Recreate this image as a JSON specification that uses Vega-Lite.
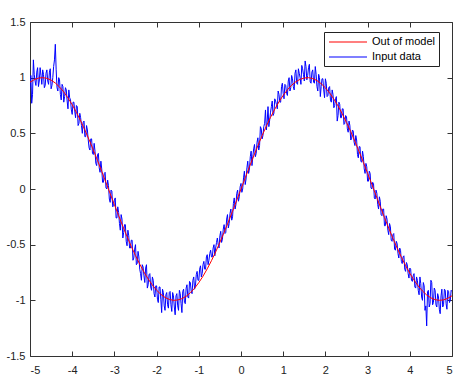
{
  "$schema": "https://vega.github.io/schema/vega-lite/v6.json",
  "width": 422,
  "height": 334,
  "autosize": "none",
  "padding": {"left": 30, "top": 22, "right": 22, "bottom": 33},
  "background": "white",
  "config": {
    "view": {"stroke": "#333", "strokeWidth": 1},
    "axis": {"grid": false, "domain": false, "tickColor": "#333", "tickSize": -5, "labelFont": "Liberation Sans", "labelFontSize": 11, "labelColor": "#222", "title": null},
    "legend": {"labelFont": "Liberation Sans", "labelFontSize": 11, "labelColor": "#000"}
  },
  "datasets": {
    "model": [
      {"x": -5.0, "y": 0.959}, {"x": -4.9, "y": 0.982}, {"x": -4.8, "y": 0.996}, {"x": -4.7, "y": 1.0}, {"x": -4.6, "y": 0.994}, {"x": -4.5, "y": 0.978}, {"x": -4.4, "y": 0.952}, {"x": -4.3, "y": 0.916}, {"x": -4.2, "y": 0.872}, {"x": -4.1, "y": 0.818},
      {"x": -4.0, "y": 0.757}, {"x": -3.9, "y": 0.688}, {"x": -3.8, "y": 0.612}, {"x": -3.7, "y": 0.53}, {"x": -3.6, "y": 0.443}, {"x": -3.5, "y": 0.351}, {"x": -3.4, "y": 0.256}, {"x": -3.3, "y": 0.158}, {"x": -3.2, "y": 0.058}, {"x": -3.1, "y": -0.042},
      {"x": -3.0, "y": -0.141}, {"x": -2.9, "y": -0.239}, {"x": -2.8, "y": -0.335}, {"x": -2.7, "y": -0.427}, {"x": -2.6, "y": -0.516}, {"x": -2.5, "y": -0.598}, {"x": -2.4, "y": -0.675}, {"x": -2.3, "y": -0.746}, {"x": -2.2, "y": -0.808}, {"x": -2.1, "y": -0.863},
      {"x": -2.0, "y": -0.909}, {"x": -1.9, "y": -0.946}, {"x": -1.8, "y": -0.974}, {"x": -1.7, "y": -0.992}, {"x": -1.6, "y": -1.0}, {"x": -1.5, "y": -0.997}, {"x": -1.4, "y": -0.985}, {"x": -1.3, "y": -0.964}, {"x": -1.2, "y": -0.932}, {"x": -1.1, "y": -0.891},
      {"x": -1.0, "y": -0.841}, {"x": -0.9, "y": -0.783}, {"x": -0.8, "y": -0.717}, {"x": -0.7, "y": -0.644}, {"x": -0.6, "y": -0.565}, {"x": -0.5, "y": -0.479}, {"x": -0.4, "y": -0.389}, {"x": -0.3, "y": -0.296}, {"x": -0.2, "y": -0.199}, {"x": -0.1, "y": -0.1},
      {"x": 0.0, "y": 0.0}, {"x": 0.1, "y": 0.1}, {"x": 0.2, "y": 0.199}, {"x": 0.3, "y": 0.296}, {"x": 0.4, "y": 0.389}, {"x": 0.5, "y": 0.479}, {"x": 0.6, "y": 0.565}, {"x": 0.7, "y": 0.644}, {"x": 0.8, "y": 0.717}, {"x": 0.9, "y": 0.783},
      {"x": 1.0, "y": 0.841}, {"x": 1.1, "y": 0.891}, {"x": 1.2, "y": 0.932}, {"x": 1.3, "y": 0.964}, {"x": 1.4, "y": 0.985}, {"x": 1.5, "y": 0.997}, {"x": 1.6, "y": 1.0}, {"x": 1.7, "y": 0.992}, {"x": 1.8, "y": 0.974}, {"x": 1.9, "y": 0.946},
      {"x": 2.0, "y": 0.909}, {"x": 2.1, "y": 0.863}, {"x": 2.2, "y": 0.808}, {"x": 2.3, "y": 0.746}, {"x": 2.4, "y": 0.675}, {"x": 2.5, "y": 0.598}, {"x": 2.6, "y": 0.516}, {"x": 2.7, "y": 0.427}, {"x": 2.8, "y": 0.335}, {"x": 2.9, "y": 0.239},
      {"x": 3.0, "y": 0.141}, {"x": 3.1, "y": 0.042}, {"x": 3.2, "y": -0.058}, {"x": 3.3, "y": -0.158}, {"x": 3.4, "y": -0.256}, {"x": 3.5, "y": -0.351}, {"x": 3.6, "y": -0.443}, {"x": 3.7, "y": -0.53}, {"x": 3.8, "y": -0.612}, {"x": 3.9, "y": -0.688},
      {"x": 4.0, "y": -0.757}, {"x": 4.1, "y": -0.818}, {"x": 4.2, "y": -0.872}, {"x": 4.3, "y": -0.916}, {"x": 4.4, "y": -0.952}, {"x": 4.5, "y": -0.978}, {"x": 4.6, "y": -0.994}, {"x": 4.7, "y": -1.0}, {"x": 4.8, "y": -0.996}, {"x": 4.9, "y": -0.982},
      {"x": 5.0, "y": -0.959}
    ],
    "input": [
      {"x": -5.0, "y": 0.91}, {"x": -4.96, "y": 0.77}, {"x": -4.92, "y": 1.16}, {"x": -4.88, "y": 0.97}, {"x": -4.84, "y": 1.05}, {"x": -4.8, "y": 0.92}, {"x": -4.76, "y": 1.09}, {"x": -4.72, "y": 0.94}, {"x": -4.68, "y": 1.03}, {"x": -4.64, "y": 0.93},
      {"x": -4.6, "y": 1.07}, {"x": -4.56, "y": 0.94}, {"x": -4.52, "y": 1.08}, {"x": -4.48, "y": 0.93}, {"x": -4.44, "y": 1.1}, {"x": -4.4, "y": 1.3}, {"x": -4.36, "y": 0.91}, {"x": -4.32, "y": 1.0}, {"x": -4.28, "y": 0.85}, {"x": -4.24, "y": 0.94},
      {"x": -4.2, "y": 0.78}, {"x": -4.16, "y": 0.91}, {"x": -4.12, "y": 0.79}, {"x": -4.08, "y": 0.89}, {"x": -4.04, "y": 0.8}, {"x": -4.0, "y": 0.67}, {"x": -3.96, "y": 0.78}, {"x": -3.92, "y": 0.64}, {"x": -3.88, "y": 0.74}, {"x": -3.84, "y": 0.59},
      {"x": -3.8, "y": 0.64}, {"x": -3.76, "y": 0.5}, {"x": -3.72, "y": 0.61}, {"x": -3.68, "y": 0.47}, {"x": -3.64, "y": 0.53}, {"x": -3.6, "y": 0.37}, {"x": -3.56, "y": 0.45}, {"x": -3.52, "y": 0.32}, {"x": -3.48, "y": 0.41}, {"x": -3.44, "y": 0.23},
      {"x": -3.4, "y": 0.31}, {"x": -3.36, "y": 0.19}, {"x": -3.32, "y": 0.25}, {"x": -3.28, "y": 0.06}, {"x": -3.24, "y": 0.14}, {"x": -3.2, "y": 0.01}, {"x": -3.16, "y": 0.08}, {"x": -3.12, "y": -0.09}, {"x": -3.08, "y": -0.01}, {"x": -3.04, "y": -0.16},
      {"x": -3.0, "y": -0.1}, {"x": -2.96, "y": -0.26}, {"x": -2.92, "y": -0.16}, {"x": -2.88, "y": -0.31}, {"x": -2.84, "y": -0.23}, {"x": -2.8, "y": -0.44}, {"x": -2.76, "y": -0.32}, {"x": -2.72, "y": -0.47}, {"x": -2.68, "y": -0.37}, {"x": -2.64, "y": -0.53},
      {"x": -2.6, "y": -0.46}, {"x": -2.56, "y": -0.64}, {"x": -2.52, "y": -0.54}, {"x": -2.48, "y": -0.68}, {"x": -2.44, "y": -0.56}, {"x": -2.4, "y": -0.72}, {"x": -2.36, "y": -0.82}, {"x": -2.32, "y": -0.7}, {"x": -2.28, "y": -0.84}, {"x": -2.24, "y": -0.68},
      {"x": -2.2, "y": -0.86}, {"x": -2.16, "y": -0.76}, {"x": -2.12, "y": -0.91}, {"x": -2.08, "y": -0.82}, {"x": -2.04, "y": -0.97}, {"x": -2.0, "y": -0.87}, {"x": -1.96, "y": -1.02}, {"x": -1.92, "y": -0.88}, {"x": -1.88, "y": -1.11}, {"x": -1.84, "y": -0.93},
      {"x": -1.8, "y": -1.09}, {"x": -1.76, "y": -0.93}, {"x": -1.72, "y": -1.07}, {"x": -1.68, "y": -0.92}, {"x": -1.64, "y": -1.1}, {"x": -1.6, "y": -0.96}, {"x": -1.56, "y": -1.13}, {"x": -1.52, "y": -0.94}, {"x": -1.48, "y": -1.09}, {"x": -1.44, "y": -0.94},
      {"x": -1.4, "y": -1.11}, {"x": -1.36, "y": -0.9}, {"x": -1.32, "y": -1.03}, {"x": -1.28, "y": -0.86}, {"x": -1.24, "y": -0.98}, {"x": -1.2, "y": -0.84}, {"x": -1.16, "y": -0.94}, {"x": -1.12, "y": -0.79}, {"x": -1.08, "y": -0.87}, {"x": -1.04, "y": -0.74},
      {"x": -1.0, "y": -0.82}, {"x": -0.96, "y": -0.69}, {"x": -0.92, "y": -0.76}, {"x": -0.88, "y": -0.65}, {"x": -0.84, "y": -0.72}, {"x": -0.8, "y": -0.59}, {"x": -0.76, "y": -0.64}, {"x": -0.72, "y": -0.55}, {"x": -0.68, "y": -0.61}, {"x": -0.64, "y": -0.5},
      {"x": -0.6, "y": -0.53}, {"x": -0.56, "y": -0.44}, {"x": -0.52, "y": -0.53}, {"x": -0.48, "y": -0.38}, {"x": -0.44, "y": -0.45}, {"x": -0.4, "y": -0.32}, {"x": -0.36, "y": -0.39}, {"x": -0.32, "y": -0.23}, {"x": -0.28, "y": -0.31}, {"x": -0.24, "y": -0.18},
      {"x": -0.2, "y": -0.25}, {"x": -0.16, "y": -0.08}, {"x": -0.12, "y": -0.14}, {"x": -0.08, "y": -0.01}, {"x": -0.04, "y": -0.07},
      {"x": 0.0, "y": 0.05}, {"x": 0.04, "y": 0.0}, {"x": 0.08, "y": 0.16}, {"x": 0.12, "y": 0.09}, {"x": 0.16, "y": 0.25}, {"x": 0.2, "y": 0.18}, {"x": 0.24, "y": 0.34}, {"x": 0.28, "y": 0.29}, {"x": 0.32, "y": 0.4}, {"x": 0.36, "y": 0.32},
      {"x": 0.4, "y": 0.46}, {"x": 0.44, "y": 0.39}, {"x": 0.48, "y": 0.54}, {"x": 0.52, "y": 0.48}, {"x": 0.56, "y": 0.59}, {"x": 0.6, "y": 0.53}, {"x": 0.64, "y": 0.74}, {"x": 0.68, "y": 0.62}, {"x": 0.72, "y": 0.74}, {"x": 0.76, "y": 0.66},
      {"x": 0.8, "y": 0.81}, {"x": 0.84, "y": 0.76}, {"x": 0.88, "y": 0.88}, {"x": 0.92, "y": 0.78}, {"x": 0.96, "y": 0.92}, {"x": 1.0, "y": 0.86}, {"x": 1.04, "y": 0.94}, {"x": 1.08, "y": 0.86}, {"x": 1.12, "y": 0.97}, {"x": 1.16, "y": 0.88},
      {"x": 1.2, "y": 1.02}, {"x": 1.24, "y": 0.92}, {"x": 1.28, "y": 1.04}, {"x": 1.32, "y": 0.95}, {"x": 1.36, "y": 1.08}, {"x": 1.4, "y": 1.0}, {"x": 1.44, "y": 1.11}, {"x": 1.48, "y": 1.03}, {"x": 1.52, "y": 1.15}, {"x": 1.56, "y": 0.98},
      {"x": 1.6, "y": 1.09}, {"x": 1.64, "y": 0.96}, {"x": 1.68, "y": 1.05}, {"x": 1.72, "y": 0.96}, {"x": 1.76, "y": 1.1}, {"x": 1.8, "y": 0.92}, {"x": 1.84, "y": 1.03}, {"x": 1.88, "y": 0.83}, {"x": 1.92, "y": 0.99}, {"x": 1.96, "y": 0.89},
      {"x": 2.0, "y": 0.99}, {"x": 2.04, "y": 0.83}, {"x": 2.08, "y": 0.91}, {"x": 2.12, "y": 0.8}, {"x": 2.16, "y": 0.89}, {"x": 2.2, "y": 0.73}, {"x": 2.24, "y": 0.81}, {"x": 2.28, "y": 0.61}, {"x": 2.32, "y": 0.78}, {"x": 2.36, "y": 0.64},
      {"x": 2.4, "y": 0.72}, {"x": 2.44, "y": 0.58}, {"x": 2.48, "y": 0.66}, {"x": 2.52, "y": 0.54}, {"x": 2.56, "y": 0.61}, {"x": 2.6, "y": 0.44}, {"x": 2.64, "y": 0.53}, {"x": 2.68, "y": 0.42}, {"x": 2.72, "y": 0.48}, {"x": 2.76, "y": 0.31},
      {"x": 2.8, "y": 0.38}, {"x": 2.84, "y": 0.25}, {"x": 2.88, "y": 0.34}, {"x": 2.92, "y": 0.18}, {"x": 2.96, "y": 0.23}, {"x": 3.0, "y": 0.07}, {"x": 3.04, "y": 0.16}, {"x": 3.08, "y": 0.01}, {"x": 3.12, "y": 0.06}, {"x": 3.16, "y": -0.08},
      {"x": 3.2, "y": -0.01}, {"x": 3.24, "y": -0.14}, {"x": 3.28, "y": -0.07}, {"x": 3.32, "y": -0.23}, {"x": 3.36, "y": -0.18}, {"x": 3.4, "y": -0.33}, {"x": 3.44, "y": -0.24}, {"x": 3.48, "y": -0.37}, {"x": 3.52, "y": -0.31}, {"x": 3.56, "y": -0.46},
      {"x": 3.6, "y": -0.41}, {"x": 3.64, "y": -0.54}, {"x": 3.68, "y": -0.47}, {"x": 3.72, "y": -0.58}, {"x": 3.76, "y": -0.53}, {"x": 3.8, "y": -0.65}, {"x": 3.84, "y": -0.61}, {"x": 3.88, "y": -0.72}, {"x": 3.92, "y": -0.66}, {"x": 3.96, "y": -0.76},
      {"x": 4.0, "y": -0.71}, {"x": 4.04, "y": -0.82}, {"x": 4.08, "y": -0.78}, {"x": 4.12, "y": -0.88}, {"x": 4.16, "y": -0.79}, {"x": 4.2, "y": -0.91}, {"x": 4.24, "y": -0.79}, {"x": 4.28, "y": -0.97}, {"x": 4.32, "y": -0.84}, {"x": 4.36, "y": -1.09},
      {"x": 4.4, "y": -1.23}, {"x": 4.44, "y": -0.91}, {"x": 4.48, "y": -1.03}, {"x": 4.52, "y": -0.84}, {"x": 4.56, "y": -1.02}, {"x": 4.6, "y": -0.91}, {"x": 4.64, "y": -1.06}, {"x": 4.68, "y": -0.97}, {"x": 4.72, "y": -1.12}, {"x": 4.76, "y": -0.9},
      {"x": 4.8, "y": -1.04}, {"x": 4.84, "y": -0.91}, {"x": 4.88, "y": -1.08}, {"x": 4.92, "y": -0.92}, {"x": 4.96, "y": -1.0}, {"x": 5.0, "y": -0.92},
      {"x": -4.98, "y": 1.02}, {"x": -4.94, "y": 0.85}, {"x": -4.9, "y": 1.03}, {"x": -4.86, "y": 0.93}, {"x": -4.82, "y": 1.09}, {"x": -4.78, "y": 0.97}, {"x": -4.74, "y": 1.02}, {"x": -4.7, "y": 1.07}, {"x": -4.66, "y": 0.91}, {"x": -4.62, "y": 1.04},
      {"x": -4.58, "y": 0.97}, {"x": -4.54, "y": 1.05}, {"x": -4.5, "y": 0.9}, {"x": -4.46, "y": 1.0}, {"x": -4.42, "y": 1.16}, {"x": -4.38, "y": 1.07}, {"x": -4.34, "y": 0.88}, {"x": -4.3, "y": 0.98}, {"x": -4.26, "y": 0.8}, {"x": -4.22, "y": 0.92},
      {"x": -4.18, "y": 0.83}, {"x": -4.14, "y": 0.89}, {"x": -4.1, "y": 0.72}, {"x": -4.06, "y": 0.82}, {"x": -4.02, "y": 0.71}, {"x": -3.98, "y": 0.78}, {"x": -3.94, "y": 0.7}, {"x": -3.9, "y": 0.75}, {"x": -3.86, "y": 0.57}, {"x": -3.82, "y": 0.68},
      {"x": -3.78, "y": 0.57}, {"x": -3.74, "y": 0.6}, {"x": -3.7, "y": 0.47}, {"x": -3.66, "y": 0.57}, {"x": -3.62, "y": 0.44}, {"x": -3.58, "y": 0.35}, {"x": -3.54, "y": 0.45}, {"x": -3.5, "y": 0.31}, {"x": -3.46, "y": 0.34}, {"x": -3.42, "y": 0.21},
      {"x": -3.38, "y": 0.32}, {"x": -3.34, "y": 0.15}, {"x": -3.3, "y": 0.18}, {"x": -3.26, "y": 0.06}, {"x": -3.22, "y": 0.15}, {"x": -3.18, "y": 0.0}, {"x": -3.14, "y": 0.03}, {"x": -3.1, "y": -0.12}, {"x": -3.06, "y": -0.02}, {"x": -3.02, "y": -0.15},
      {"x": -2.98, "y": -0.08}, {"x": -2.94, "y": -0.26}, {"x": -2.9, "y": -0.21}, {"x": -2.86, "y": -0.37}, {"x": -2.82, "y": -0.27}, {"x": -2.78, "y": -0.39}, {"x": -2.74, "y": -0.32}, {"x": -2.7, "y": -0.51}, {"x": -2.66, "y": -0.42}, {"x": -2.62, "y": -0.53},
      {"x": -2.58, "y": -0.46}, {"x": -2.54, "y": -0.62}, {"x": -2.5, "y": -0.5}, {"x": -2.46, "y": -0.67}, {"x": -2.42, "y": -0.61}, {"x": -2.38, "y": -0.76}, {"x": -2.34, "y": -0.68}, {"x": -2.3, "y": -0.78}, {"x": -2.26, "y": -0.71}, {"x": -2.22, "y": -0.89},
      {"x": -2.18, "y": -0.77}, {"x": -2.14, "y": -0.88}, {"x": -2.1, "y": -0.79}, {"x": -2.06, "y": -0.94}, {"x": -2.02, "y": -0.87}, {"x": -1.98, "y": -0.99}, {"x": -1.94, "y": -0.88}, {"x": -1.9, "y": -0.99}, {"x": -1.86, "y": -0.9}, {"x": -1.82, "y": -1.05},
      {"x": -1.78, "y": -0.95}, {"x": -1.74, "y": -1.04}, {"x": -1.7, "y": -0.93}, {"x": -1.66, "y": -1.04}, {"x": -1.62, "y": -0.93}, {"x": -1.58, "y": -1.06}, {"x": -1.54, "y": -0.96}, {"x": -1.5, "y": -1.05}, {"x": -1.46, "y": -0.91}, {"x": -1.42, "y": -1.03},
      {"x": -1.38, "y": -0.92}, {"x": -1.34, "y": -1.02}, {"x": -1.3, "y": -0.89}, {"x": -1.26, "y": -0.97}, {"x": -1.22, "y": -0.83}, {"x": -1.18, "y": -0.92}, {"x": -1.14, "y": -0.82}, {"x": -1.1, "y": -0.9}, {"x": -1.06, "y": -0.77}, {"x": -1.02, "y": -0.82},
      {"x": -0.98, "y": -0.72}, {"x": -0.94, "y": -0.79}, {"x": -0.9, "y": -0.68}, {"x": -0.86, "y": -0.72}, {"x": -0.82, "y": -0.61}, {"x": -0.78, "y": -0.68}, {"x": -0.74, "y": -0.58}, {"x": -0.7, "y": -0.61}, {"x": -0.66, "y": -0.53}, {"x": -0.62, "y": -0.6},
      {"x": -0.58, "y": -0.48}, {"x": -0.54, "y": -0.5}, {"x": -0.5, "y": -0.42}, {"x": -0.46, "y": -0.48}, {"x": -0.42, "y": -0.36}, {"x": -0.38, "y": -0.4}, {"x": -0.34, "y": -0.27}, {"x": -0.3, "y": -0.35}, {"x": -0.26, "y": -0.22}, {"x": -0.22, "y": -0.28},
      {"x": -0.18, "y": -0.13}, {"x": -0.14, "y": -0.18}, {"x": -0.1, "y": -0.04}, {"x": -0.06, "y": -0.11}, {"x": -0.02, "y": 0.02},
      {"x": 0.02, "y": -0.03}, {"x": 0.06, "y": 0.1}, {"x": 0.1, "y": 0.04}, {"x": 0.14, "y": 0.19}, {"x": 0.18, "y": 0.14}, {"x": 0.22, "y": 0.29}, {"x": 0.26, "y": 0.21}, {"x": 0.3, "y": 0.36}, {"x": 0.34, "y": 0.29}, {"x": 0.38, "y": 0.42},
      {"x": 0.42, "y": 0.35}, {"x": 0.46, "y": 0.56}, {"x": 0.5, "y": 0.45}, {"x": 0.54, "y": 0.56}, {"x": 0.58, "y": 0.71}, {"x": 0.62, "y": 0.6}, {"x": 0.66, "y": 0.56}, {"x": 0.7, "y": 0.69}, {"x": 0.74, "y": 0.79}, {"x": 0.78, "y": 0.68},
      {"x": 0.82, "y": 0.79}, {"x": 0.86, "y": 0.72}, {"x": 0.9, "y": 0.85}, {"x": 0.94, "y": 0.78}, {"x": 0.98, "y": 0.95}, {"x": 1.02, "y": 0.81}, {"x": 1.06, "y": 0.93}, {"x": 1.1, "y": 0.84}, {"x": 1.14, "y": 1.0}, {"x": 1.18, "y": 0.91},
      {"x": 1.22, "y": 0.99}, {"x": 1.26, "y": 0.89}, {"x": 1.3, "y": 1.07}, {"x": 1.34, "y": 0.94}, {"x": 1.38, "y": 1.04}, {"x": 1.42, "y": 0.94}, {"x": 1.46, "y": 1.08}, {"x": 1.5, "y": 0.97}, {"x": 1.54, "y": 1.1}, {"x": 1.58, "y": 1.02},
      {"x": 1.62, "y": 1.12}, {"x": 1.66, "y": 0.95}, {"x": 1.7, "y": 1.07}, {"x": 1.74, "y": 0.95}, {"x": 1.78, "y": 1.03}, {"x": 1.82, "y": 0.88}, {"x": 1.86, "y": 1.0}, {"x": 1.9, "y": 0.92}, {"x": 1.94, "y": 0.99}, {"x": 1.98, "y": 0.82},
      {"x": 2.02, "y": 0.95}, {"x": 2.06, "y": 0.84}, {"x": 2.1, "y": 0.92}, {"x": 2.14, "y": 0.78}, {"x": 2.18, "y": 0.85}, {"x": 2.22, "y": 0.75}, {"x": 2.26, "y": 0.83}, {"x": 2.3, "y": 0.66}, {"x": 2.34, "y": 0.76}, {"x": 2.38, "y": 0.64},
      {"x": 2.42, "y": 0.72}, {"x": 2.46, "y": 0.59}, {"x": 2.5, "y": 0.65}, {"x": 2.54, "y": 0.51}, {"x": 2.58, "y": 0.57}, {"x": 2.62, "y": 0.45}, {"x": 2.66, "y": 0.52}, {"x": 2.7, "y": 0.39}, {"x": 2.74, "y": 0.44}, {"x": 2.78, "y": 0.28},
      {"x": 2.82, "y": 0.38}, {"x": 2.86, "y": 0.24}, {"x": 2.9, "y": 0.29}, {"x": 2.94, "y": 0.14}, {"x": 2.98, "y": 0.2}, {"x": 3.02, "y": 0.07}, {"x": 3.06, "y": 0.14}, {"x": 3.1, "y": 0.0}, {"x": 3.14, "y": 0.05}, {"x": 3.18, "y": -0.09},
      {"x": 3.22, "y": -0.04}, {"x": 3.26, "y": -0.18}, {"x": 3.3, "y": -0.11}, {"x": 3.34, "y": -0.24}, {"x": 3.38, "y": -0.18}, {"x": 3.42, "y": -0.33}, {"x": 3.46, "y": -0.27}, {"x": 3.5, "y": -0.41}, {"x": 3.54, "y": -0.34}, {"x": 3.58, "y": -0.47},
      {"x": 3.62, "y": -0.4}, {"x": 3.66, "y": -0.55}, {"x": 3.7, "y": -0.49}, {"x": 3.74, "y": -0.62}, {"x": 3.78, "y": -0.55}, {"x": 3.82, "y": -0.67}, {"x": 3.86, "y": -0.6}, {"x": 3.9, "y": -0.74}, {"x": 3.94, "y": -0.68}, {"x": 3.98, "y": -0.8},
      {"x": 4.02, "y": -0.72}, {"x": 4.06, "y": -0.83}, {"x": 4.1, "y": -0.76}, {"x": 4.14, "y": -0.89}, {"x": 4.18, "y": -0.82}, {"x": 4.22, "y": -0.95}, {"x": 4.26, "y": -0.85}, {"x": 4.3, "y": -1.0}, {"x": 4.34, "y": -0.87}, {"x": 4.38, "y": -1.05},
      {"x": 4.42, "y": -0.92}, {"x": 4.46, "y": -1.06}, {"x": 4.5, "y": -0.82}, {"x": 4.54, "y": -1.04}, {"x": 4.58, "y": -0.89}, {"x": 4.62, "y": -1.04}, {"x": 4.66, "y": -0.94}, {"x": 4.7, "y": -1.08}, {"x": 4.74, "y": -0.96}, {"x": 4.78, "y": -1.06},
      {"x": 4.82, "y": -0.9}, {"x": 4.86, "y": -1.03}, {"x": 4.9, "y": -0.91}, {"x": 4.94, "y": -1.02}, {"x": 4.98, "y": -0.91}
    ]
  },
  "layer": [
    {
      "data": {"name": "input"},
      "mark": {"type": "line", "strokeWidth": 1, "clip": true},
      "encoding": {
        "x": {"field": "x", "type": "quantitative", "scale": {"domain": [-5, 5], "nice": false, "zero": false},
              "axis": {"orient": "top", "values": [-5, -4, -3, -2, -1, 0, 1, 2, 3, 4, 5], "labels": false}},
        "y": {"field": "y", "type": "quantitative", "scale": {"domain": [-1.5, 1.5], "nice": false, "zero": false},
              "axis": {"orient": "right", "values": [-1.5, -1, -0.5, 0, 0.5, 1, 1.5], "labels": false}},
        "color": {"datum": "Input data", "type": "nominal",
                  "scale": {"domain": ["Out of model", "Input data"], "range": ["#ff0000", "#0000ff"]},
                  "legend": {"title": null, "orient": "none", "legendX": 294, "legendY": 10,
                             "symbolType": "M-1,0H6.6", "symbolSize": 100, "symbolStrokeWidth": 1.2, "labelOffset": 32,
                             "padding": 4, "rowPadding": 4, "fillColor": "white", "strokeColor": "#222", "cornerRadius": 0}}
      }
    },
    {
      "data": {"name": "model"},
      "mark": {"type": "line", "strokeWidth": 1, "clip": true},
      "encoding": {
        "x": {"field": "x", "type": "quantitative",
              "axis": {"orient": "bottom", "values": [-5, -4, -3, -2, -1, 0, 1, 2, 3, 4, 5], "labelPadding": 13, "labelExpr": "datum.value + ''"}},
        "y": {"field": "y", "type": "quantitative",
              "axis": {"orient": "left", "values": [-1.5, -1, -0.5, 0, 0.5, 1, 1.5], "labelPadding": 10, "labelExpr": "datum.value + ''"}},
        "color": {"datum": "Out of model", "type": "nominal"}
      }
    }
  ],
  "resolve": {"axis": {"x": "independent", "y": "independent"}}
}
